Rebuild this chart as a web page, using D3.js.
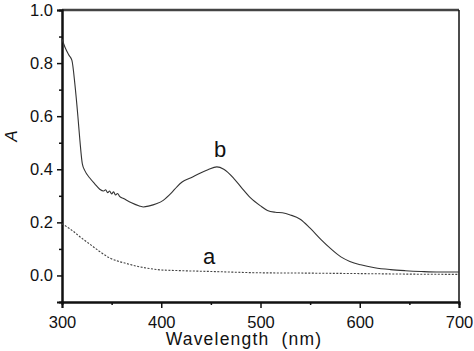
<!DOCTYPE html>
<html>
<head>
<meta charset="utf-8">
<script src="https://cdn.jsdelivr.net/npm/d3@7"></script>
<style>
  body { margin: 0; background: #fff; }
  svg { font-family: "Liberation Sans", Arial, sans-serif; }
</style>
</head>
<body>
<svg id="chart" width="474" height="351"></svg>
<script>
// wavelength (nm) / absorbance
const wavelengthB = [300, 303, 307, 310, 313, 316, 318, 320.5, 323, 328, 333, 338, 342, 344, 346, 348, 350, 352, 354, 356, 358, 362, 370, 378, 382, 388, 395, 402, 410, 416, 421, 430, 439, 447, 456, 463, 473, 481, 490, 500, 507, 515, 522, 530, 540, 550, 561, 571, 581, 590, 601, 615, 631, 646, 662, 680, 700];
const absorbB = [0.89, 0.86, 0.83, 0.81, 0.72, 0.6, 0.51, 0.42, 0.395, 0.367, 0.345, 0.325, 0.318, 0.323, 0.312, 0.318, 0.307, 0.315, 0.303, 0.309, 0.298, 0.29, 0.274, 0.262, 0.258, 0.262, 0.27, 0.283, 0.31, 0.335, 0.352, 0.368, 0.385, 0.398, 0.409, 0.4, 0.366, 0.33, 0.292, 0.262, 0.245, 0.238, 0.236, 0.228, 0.212, 0.178, 0.135, 0.1, 0.07, 0.053, 0.04, 0.029, 0.022, 0.018, 0.015, 0.013, 0.013];

const wavelengthA = [300, 310, 320, 328, 338, 348, 357, 365, 375, 385, 399, 420, 450, 500, 540, 600, 650, 700];
const absorbA = [0.195, 0.17, 0.14, 0.118, 0.09, 0.066, 0.053, 0.045, 0.035, 0.028, 0.021, 0.018, 0.015, 0.01, 0.009, 0.007, 0.005, 0.004];

const xMajor = [300, 400, 500, 600, 700];
const xMinor = [350, 450, 550, 650];
const yMajor = [0.0, 0.2, 0.4, 0.6, 0.8, 1.0];
const yMinor = [0.1, 0.3, 0.5, 0.7, 0.9];

const svg = d3.select('#chart');
const plotL = 62, plotR = 459, plotT = 10, plotB = 302;

let xScale = d3.scaleLinear().domain([300, 700]).range([plotL, plotR]);
let yScale = d3.scaleLinear().domain([-0.1, 1.0]).range([plotB, plotT]);

// frame
svg.append('line').attr('x1', plotL).attr('x2', plotR).attr('y1', plotT).attr('y2', plotT)
  .style('stroke', '#444').style('stroke-width', '2.5px');
svg.append('line').attr('x1', plotR).attr('x2', plotR).attr('y1', plotT).attr('y2', plotB)
  .style('stroke', '#111').style('stroke-width', '1.5px');

let xAxis = d3.axisBottom(xScale).tickValues(xMajor).tickSize(6).tickPadding(8).tickFormat(d3.format('d'));
let xAxisMinor = d3.axisBottom(xScale).tickValues(xMinor).tickSize(3).tickFormat('');
let yAxis = d3.axisLeft(yScale).tickValues(yMajor).tickSize(5).tickPadding(4).tickFormat(d3.format('.1f'));
let yAxisMinor = d3.axisLeft(yScale).tickValues(yMinor).tickSize(3).tickFormat('');

svg.append('g').attr('transform', `translate(0, ${plotB})`).attr('id', 'xAxisG').call(xAxis);
svg.append('g').attr('transform', `translate(0, ${plotB})`).call(xAxisMinor);
svg.append('g').attr('transform', `translate(${plotL}, 0)`).attr('id', 'yAxisG').call(yAxis);
svg.append('g').attr('transform', `translate(${plotL}, 0)`).call(yAxisMinor);

svg.selectAll('.domain').attr('stroke', '#111').attr('stroke-width', 2);
svg.selectAll('.tick line').attr('stroke', '#111').attr('stroke-width', 1.5);
svg.selectAll('.tick text').style('font-size', '16.5px').attr('fill', '#111');

// curves
let line = d3.line().curve(d3.curveMonotoneX).x(d => xScale(d[0])).y(d => yScale(d[1]));

svg.append('path')
  .datum(d3.zip(wavelengthB, absorbB))
  .attr('d', line)
  .style('fill', 'none')
  .style('stroke', '#333')
  .style('stroke-width', '1.1px');

svg.append('path')
  .datum(d3.zip(wavelengthA, absorbA))
  .attr('d', line)
  .style('fill', 'none')
  .style('stroke', '#444')
  .style('stroke-width', '1.1px')
  .style('stroke-dasharray', '2,1.5');

// curve labels
svg.append('text').attr('x', 220).attr('y', 157).attr('text-anchor', 'middle')
  .style('font-size', '22px').attr('fill', '#111').text('b');
svg.append('text').attr('x', 209).attr('y', 264).attr('text-anchor', 'middle')
  .style('font-size', '22px').attr('fill', '#111').text('a');

// axis titles
svg.append('text').attr('x', 244).attr('y', 345).attr('text-anchor', 'middle')
  .style('font-size', '17.5px').style('letter-spacing', '1.2px').style('white-space', 'pre').attr('fill', '#111')
  .text('Wavelength  (nm)');
svg.append('text').attr('transform', 'translate(17, 136) rotate(-90)').attr('text-anchor', 'middle')
  .style('font-size', '17px').style('font-style', 'italic').attr('fill', '#111').text('A');
</script>
</body>
</html>
